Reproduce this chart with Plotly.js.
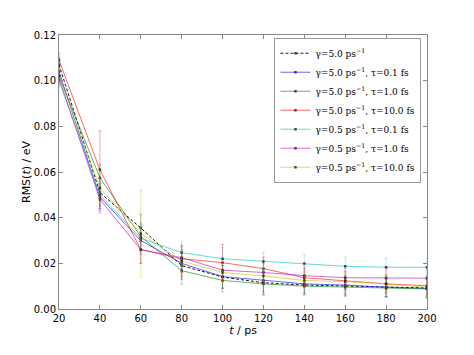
<!DOCTYPE html>
<html><head><meta charset="utf-8">
<script src="https://cdn.plot.ly/plotly-3.0.1.min.js"></script>
<style>html,body{margin:0;padding:0;background:#fff}#c{width:474px;height:355px}</style>
</head><body><div id="c"></div>
<script>
const t = [20,40,60,80,100,120,140,160,180,200];
const names = [
  'γ=5.0 ps<sup>−1</sup>',
  'γ=5.0 ps<sup>−1</sup>, τ=0.1 fs',
  'γ=5.0 ps<sup>−1</sup>, τ=1.0 fs',
  'γ=5.0 ps<sup>−1</sup>, τ=10.0 fs',
  'γ=0.5 ps<sup>−1</sup>, τ=0.1 fs',
  'γ=0.5 ps<sup>−1</sup>, τ=1.0 fs',
  'γ=0.5 ps<sup>−1</sup>, τ=10.0 fs'
];
const rmsG5      = [0.107,0.051,0.0355,0.019,0.014,0.0115,0.0105,0.0100,0.0095,0.0092];
const rmsG5T01   = [0.104,0.049,0.030,0.020,0.0142,0.0125,0.011,0.0105,0.0095,0.009];
const rmsG5T1    = [0.102,0.0575,0.0317,0.0168,0.0125,0.011,0.010,0.0095,0.009,0.0088];
const rmsG5T10   = [0.109,0.061,0.026,0.022,0.0203,0.0177,0.0137,0.0125,0.011,0.0102];
const rmsG05T01  = [0.100,0.050,0.031,0.0247,0.022,0.0208,0.0199,0.0187,0.0183,0.0183];
const rmsG05T1   = [0.101,0.048,0.026,0.0225,0.017,0.016,0.0146,0.0137,0.0136,0.0135];
const rmsG05T10  = [0.102,0.053,0.033,0.021,0.016,0.0145,0.0125,0.012,0.011,0.0095];
const errG5      = [0.003,0.006,0.006,0.006,0.005,0.005,0.004,0.004,0.004,0.004];
const errG5T01   = [0.003,0.006,0.006,0.006,0.005,0.005,0.004,0.004,0.004,0.004];
const errG5T1    = [0.003,0.006,0.006,0.006,0.005,0.005,0.004,0.004,0.004,0.004];
const errG5T10   = [0.003,0.017,0.006,0.006,0.008,0.005,0.004,0.004,0.004,0.004];
const errG05T01  = [0.003,0.006,0.006,0.005,0.005,0.004,0.004,0.004,0.004,0.004];
const errG05T1   = [0.003,0.006,0.006,0.005,0.005,0.004,0.004,0.004,0.004,0.004];
const errG05T10  = [0.003,0.007,0.019,0.006,0.005,0.005,0.004,0.004,0.004,0.004];

const series = [rmsG5,rmsG5T01,rmsG5T1,rmsG5T10,rmsG05T01,rmsG05T1,rmsG05T10];
const errs = [errG5,errG5T01,errG5T1,errG5T10,errG05T01,errG05T1,errG05T10];
const colors = ['rgba(0,0,0,0.9)','rgba(0,0,255,0.6)','rgba(0,128,0,0.6)','rgba(255,0,0,0.6)','rgba(0,191,191,0.6)','rgba(191,0,191,0.6)','rgba(191,191,0,0.6)'];
const errColors = ['rgba(0,0,0,0.35)','rgba(0,0,255,0.35)','rgba(0,128,0,0.35)','rgba(255,0,0,0.45)','rgba(0,191,191,0.35)','rgba(191,0,191,0.35)','rgba(191,191,0,0.45)'];
const dashes = ['3px,2px','solid','solid','solid','solid','solid','solid'];

const traces = series.map((y,i)=>({
  x: t, y: y, name: names[i], type:'scatter', mode:'lines+markers',
  line:{color:colors[i], width:1, dash:dashes[i]},
  marker:{color:'rgba(20,20,20,0.75)', size:2.5, symbol:'square'},
  error_y:{type:'data', array:errs[i], visible:true, color:errColors[i], thickness:0.8, width:1.5}
}));

const axisCommon = {
  showgrid:false, zeroline:false, showline:true, linecolor:'#888', linewidth:1, mirror:'allticks',
  ticks:'inside', ticklen:4, tickcolor:'#888',
  tickfont:{family:'DejaVu Sans', size:10, color:'#000'}
};
const layout = {
  width:474, height:355, paper_bgcolor:'#fff', plot_bgcolor:'#fff',
  margin:{l:59, r:47, t:35, b:45.5},
  showlegend:true,
  xaxis:Object.assign({}, axisCommon, {range:[20,200], dtick:20, tick0:20,
    title:{text:'<i>t</i> / ps', font:{family:'DejaVu Sans', size:11, color:'#000'}, standoff:2}}),
  yaxis:Object.assign({}, axisCommon, {range:[0,0.12], dtick:0.02, tickformat:'.2f',
    title:{text:'RMS(<i>t</i>) / eV', font:{family:'DejaVu Sans', size:11, color:'#000'}, standoff:0}}),
  legend:{x:0.985, xanchor:'right', y:0.99, yanchor:'top', bgcolor:'#fff', bordercolor:'#999', borderwidth:1,
    font:{family:'DejaVu Serif', size:9, color:'#000'}, tracegroupgap:0, itemwidth:30}
};
Plotly.newPlot('c', traces, layout, {displayModeBar:false, staticPlot:true});
</script></body></html>
